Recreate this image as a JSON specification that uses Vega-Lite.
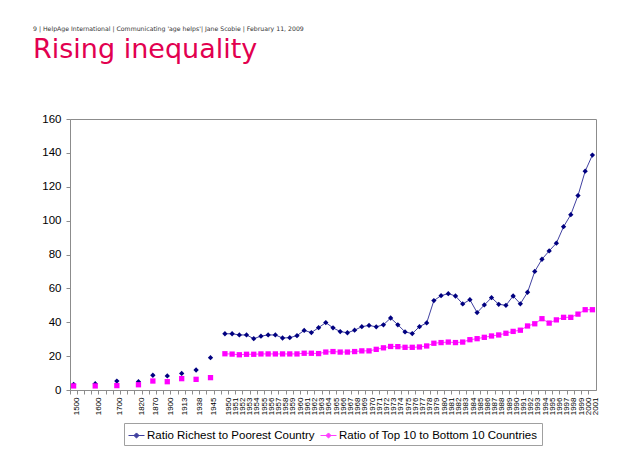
{
  "$schema": "https://vega.github.io/schema/vega-lite/v6.json",
  "width": 526,
  "height": 271,
  "autosize": "none",
  "padding": {"left": 70, "top": 119, "right": 42, "bottom": 62},
  "background": "white",
  "title": {
    "text": "9 | HelpAge International | Communicating 'age helps'| Jane Scobie | February 11, 2009",
    "subtitle": "Rising inequality",
    "anchor": "start",
    "frame": "group",
    "dx": -37,
    "offset": 50,
    "font": "DejaVu Sans",
    "fontSize": 6.2,
    "fontWeight": "normal",
    "color": "#333333",
    "subtitleFont": "DejaVu Sans",
    "subtitleFontSize": 27,
    "subtitleColor": "#e2004f",
    "subtitlePadding": 5
  },
  "config": {
    "view": {"stroke": "#8c8c8c", "strokeWidth": 1},
    "axis": {"grid": false, "labelFont": "Liberation Sans", "labelColor": "#000000", "domainColor": "#8c8c8c", "tickColor": "#8c8c8c"}
  },
  "data": {
    "values": [
      {"year": "1500", "Ratio Richest to Poorest Country": 3.3, "Ratio of Top 10 to Bottom 10 Countries": 2.4},
      {"year": "1600", "Ratio Richest to Poorest Country": 3.7, "Ratio of Top 10 to Bottom 10 Countries": 2.4},
      {"year": "1700", "Ratio Richest to Poorest Country": 5.3, "Ratio of Top 10 to Bottom 10 Countries": 2.6},
      {"year": "1820", "Ratio Richest to Poorest Country": 4.9, "Ratio of Top 10 to Bottom 10 Countries": 3.1},
      {"year": "1870", "Ratio Richest to Poorest Country": 8.7, "Ratio of Top 10 to Bottom 10 Countries": 5.3},
      {"year": "1900", "Ratio Richest to Poorest Country": 8.3, "Ratio of Top 10 to Bottom 10 Countries": 4.9},
      {"year": "1913", "Ratio Richest to Poorest Country": 9.8, "Ratio of Top 10 to Bottom 10 Countries": 6.7},
      {"year": "1938", "Ratio Richest to Poorest Country": 11.8, "Ratio of Top 10 to Bottom 10 Countries": 6.3},
      {"year": "1945", "Ratio Richest to Poorest Country": 19.1, "Ratio of Top 10 to Bottom 10 Countries": 7.3},
      {"year": "1950", "Ratio Richest to Poorest Country": 33.2, "Ratio of Top 10 to Bottom 10 Countries": 21.4},
      {"year": "1951", "Ratio Richest to Poorest Country": 33.2, "Ratio of Top 10 to Bottom 10 Countries": 21.2},
      {"year": "1952", "Ratio Richest to Poorest Country": 32.5, "Ratio of Top 10 to Bottom 10 Countries": 20.8},
      {"year": "1953", "Ratio Richest to Poorest Country": 32.5, "Ratio of Top 10 to Bottom 10 Countries": 21.1},
      {"year": "1954", "Ratio Richest to Poorest Country": 30.3, "Ratio of Top 10 to Bottom 10 Countries": 21.1},
      {"year": "1955", "Ratio Richest to Poorest Country": 31.8, "Ratio of Top 10 to Bottom 10 Countries": 21.3},
      {"year": "1956", "Ratio Richest to Poorest Country": 32.5, "Ratio of Top 10 to Bottom 10 Countries": 21.3},
      {"year": "1957", "Ratio Richest to Poorest Country": 32.5, "Ratio of Top 10 to Bottom 10 Countries": 21.3},
      {"year": "1958", "Ratio Richest to Poorest Country": 30.7, "Ratio of Top 10 to Bottom 10 Countries": 21.3},
      {"year": "1959", "Ratio Richest to Poorest Country": 30.9, "Ratio of Top 10 to Bottom 10 Countries": 21.3},
      {"year": "1960", "Ratio Richest to Poorest Country": 32.1, "Ratio of Top 10 to Bottom 10 Countries": 21.3},
      {"year": "1961", "Ratio Richest to Poorest Country": 35.2, "Ratio of Top 10 to Bottom 10 Countries": 21.7},
      {"year": "1962", "Ratio Richest to Poorest Country": 33.9, "Ratio of Top 10 to Bottom 10 Countries": 21.7},
      {"year": "1963", "Ratio Richest to Poorest Country": 36.8, "Ratio of Top 10 to Bottom 10 Countries": 21.5},
      {"year": "1964", "Ratio Richest to Poorest Country": 39.8, "Ratio of Top 10 to Bottom 10 Countries": 22.4},
      {"year": "1965", "Ratio Richest to Poorest Country": 36.7, "Ratio of Top 10 to Bottom 10 Countries": 22.7},
      {"year": "1966", "Ratio Richest to Poorest Country": 34.5, "Ratio of Top 10 to Bottom 10 Countries": 22.4},
      {"year": "1967", "Ratio Richest to Poorest Country": 33.8, "Ratio of Top 10 to Bottom 10 Countries": 22.4},
      {"year": "1968", "Ratio Richest to Poorest Country": 35.3, "Ratio of Top 10 to Bottom 10 Countries": 22.7},
      {"year": "1969", "Ratio Richest to Poorest Country": 37.4, "Ratio of Top 10 to Bottom 10 Countries": 23.1},
      {"year": "1970", "Ratio Richest to Poorest Country": 38.1, "Ratio of Top 10 to Bottom 10 Countries": 23.1},
      {"year": "1971", "Ratio Richest to Poorest Country": 37.3, "Ratio of Top 10 to Bottom 10 Countries": 24.0},
      {"year": "1972", "Ratio Richest to Poorest Country": 38.5, "Ratio of Top 10 to Bottom 10 Countries": 24.9},
      {"year": "1973", "Ratio Richest to Poorest Country": 42.5, "Ratio of Top 10 to Bottom 10 Countries": 25.7},
      {"year": "1974", "Ratio Richest to Poorest Country": 38.5, "Ratio of Top 10 to Bottom 10 Countries": 25.6},
      {"year": "1975", "Ratio Richest to Poorest Country": 34.3, "Ratio of Top 10 to Bottom 10 Countries": 25.2},
      {"year": "1976", "Ratio Richest to Poorest Country": 33.3, "Ratio of Top 10 to Bottom 10 Countries": 25.2},
      {"year": "1977", "Ratio Richest to Poorest Country": 37.4, "Ratio of Top 10 to Bottom 10 Countries": 25.4},
      {"year": "1978", "Ratio Richest to Poorest Country": 39.6, "Ratio of Top 10 to Bottom 10 Countries": 26.0},
      {"year": "1979", "Ratio Richest to Poorest Country": 52.8, "Ratio of Top 10 to Bottom 10 Countries": 27.6},
      {"year": "1980", "Ratio Richest to Poorest Country": 55.7, "Ratio of Top 10 to Bottom 10 Countries": 28.0},
      {"year": "1981", "Ratio Richest to Poorest Country": 56.9, "Ratio of Top 10 to Bottom 10 Countries": 28.3},
      {"year": "1982", "Ratio Richest to Poorest Country": 55.5, "Ratio of Top 10 to Bottom 10 Countries": 28.0},
      {"year": "1983", "Ratio Richest to Poorest Country": 50.8, "Ratio of Top 10 to Bottom 10 Countries": 28.3},
      {"year": "1984", "Ratio Richest to Poorest Country": 53.3, "Ratio of Top 10 to Bottom 10 Countries": 29.7},
      {"year": "1985", "Ratio Richest to Poorest Country": 45.7, "Ratio of Top 10 to Bottom 10 Countries": 30.3},
      {"year": "1986", "Ratio Richest to Poorest Country": 50.2, "Ratio of Top 10 to Bottom 10 Countries": 31.1},
      {"year": "1987", "Ratio Richest to Poorest Country": 54.5, "Ratio of Top 10 to Bottom 10 Countries": 31.9},
      {"year": "1988", "Ratio Richest to Poorest Country": 50.6, "Ratio of Top 10 to Bottom 10 Countries": 32.5},
      {"year": "1989", "Ratio Richest to Poorest Country": 50.0, "Ratio of Top 10 to Bottom 10 Countries": 33.5},
      {"year": "1990", "Ratio Richest to Poorest Country": 55.5, "Ratio of Top 10 to Bottom 10 Countries": 34.6},
      {"year": "1991", "Ratio Richest to Poorest Country": 50.9, "Ratio of Top 10 to Bottom 10 Countries": 35.3},
      {"year": "1992", "Ratio Richest to Poorest Country": 57.7, "Ratio of Top 10 to Bottom 10 Countries": 37.8},
      {"year": "1993", "Ratio Richest to Poorest Country": 70.0, "Ratio of Top 10 to Bottom 10 Countries": 39.1},
      {"year": "1994", "Ratio Richest to Poorest Country": 77.2, "Ratio of Top 10 to Bottom 10 Countries": 42.1},
      {"year": "1995", "Ratio Richest to Poorest Country": 82.1, "Ratio of Top 10 to Bottom 10 Countries": 39.5},
      {"year": "1996", "Ratio Richest to Poorest Country": 86.7, "Ratio of Top 10 to Bottom 10 Countries": 41.4},
      {"year": "1997", "Ratio Richest to Poorest Country": 96.4, "Ratio of Top 10 to Bottom 10 Countries": 42.9},
      {"year": "1998", "Ratio Richest to Poorest Country": 103.5, "Ratio of Top 10 to Bottom 10 Countries": 42.9},
      {"year": "1999", "Ratio Richest to Poorest Country": 114.8, "Ratio of Top 10 to Bottom 10 Countries": 44.8},
      {"year": "2000", "Ratio Richest to Poorest Country": 129.2, "Ratio of Top 10 to Bottom 10 Countries": 47.4},
      {"year": "2001", "Ratio Richest to Poorest Country": 138.7, "Ratio of Top 10 to Bottom 10 Countries": 47.4}
    ]
  },
  "transform": [
    {"fold": ["Ratio Richest to Poorest Country", "Ratio of Top 10 to Bottom 10 Countries"], "as": ["series", "value"]}
  ],
  "encoding": {
    "x": {
      "field": "year",
      "type": "ordinal",
      "sort": null,
      "scale": {
        "type": "band",
        "paddingInner": 0,
        "paddingOuter": 0,
        "domain": ["1500", "b1", "b2", "1600", "b3", "b4", "1700", "b5", "b6", "1820", "b7", "1870", "b8", "1900", "b9", "1913", "b10", "1938", "b11", "1945", "b12",
          "1950", "1951", "1952", "1953", "1954", "1955", "1956", "1957", "1958", "1959",
          "1960", "1961", "1962", "1963", "1964", "1965", "1966", "1967", "1968", "1969",
          "1970", "1971", "1972", "1973", "1974", "1975", "1976", "1977", "1978", "1979",
          "1980", "1981", "1982", "1983", "1984", "1985", "1986", "1987", "1988", "1989",
          "1990", "1991", "1992", "1993", "1994", "1995", "1996", "1997", "1998", "1999",
          "2000", "2001"]
      },
      "axis": {
        "title": null,
        "labelAngle": -90,
        "labelFontSize": 8,
        "labelOverlap": false,
        "labelPadding": 3,
        "labelBound": false,
        "bandPosition": 0,
        "labelOffset": 3.6,
        "tickSize": 4,
        "labelExpr": "substring(datum.label, 0, 1) === 'b' ? '' : datum.label"
      }
    },
    "y": {
      "field": "value",
      "type": "quantitative",
      "scale": {"domain": [0, 160], "nice": false},
      "axis": {
        "title": null,
        "values": [0, 20, 40, 60, 80, 100, 120, 140, 160],
        "labelFontSize": 11.5,
        "tickSize": 4,
        "labelPadding": 5
      }
    },
    "color": {
      "field": "series",
      "type": "nominal",
      "scale": {
        "domain": ["Ratio Richest to Poorest Country", "Ratio of Top 10 to Bottom 10 Countries"],
        "range": ["#000080", "#ff00ff"]
      },
      "legend": {
        "title": null,
        "orient": "none",
        "legendX": 54,
        "legendY": 304,
        "direction": "horizontal",
        "strokeColor": "#a0a0a0",
        "fillColor": "white",
        "padding": 4,
        "labelFont": "Liberation Sans",
        "labelFontSize": 11.5,
        "labelColor": "#000000",
        "labelLimit": 300,
        "labelOffset": 2,
        "columnPadding": 3,
        "symbolSize": 256,
        "symbolType": "M-1,0H1M0,-0.32L0.32,0L0,0.32L-0.32,0Z",
        "symbolStrokeWidth": 1,
        "encode": {
          "symbols": {
            "update": {
              "shape": {"signal": "datum.index === 0 ? 'M-1,0H1M0,-0.32L0.32,0L0,0.32L-0.32,0Z' : 'M-1,0H1M-0.27,-0.27H0.27V0.27H-0.27Z'"}
            }
          }
        }
      }
    }
  },
  "layer": [
    {
      "transform": [{"filter": "toNumber(datum.year) >= 1950"}],
      "mark": {"type": "line", "strokeWidth": 1, "opacity": 0.75}
    },
    {
      "mark": {"type": "point", "filled": true, "opacity": 1},
      "encoding": {
        "shape": {
          "condition": {"test": "datum.series === 'Ratio Richest to Poorest Country'", "value": "diamond"},
          "value": "square"
        },
        "size": {"value": 28}
      }
    }
  ]
}
